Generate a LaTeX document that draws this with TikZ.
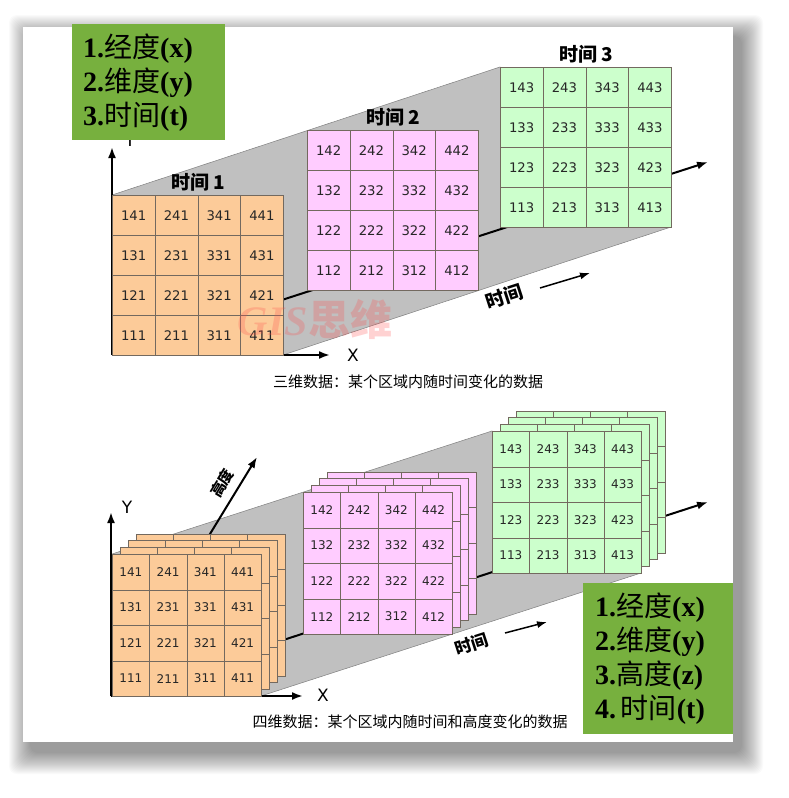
\documentclass[tikz,border=0pt]{standalone}
\usepackage{fontspec}
\newfontfamily\cjk{Noto Sans CJK SC}
\newfontfamily\cellfont{DejaVu Sans}
\newfontfamily\serifbold{Liberation Serif}
\usetikzlibrary{arrows.meta,calc,positioning}

\definecolor{cellorange}{RGB}{252,203,153}
\definecolor{cellpink}{RGB}{255,204,255}
\definecolor{cellgreen}{RGB}{204,255,204}
\definecolor{cellline}{RGB}{115,105,95}
\definecolor{slabgray}{RGB}{192,192,192}
\definecolor{legendgreen}{RGB}{119,176,62}

% one visible layer: 4x4 cells, text = column row time
\newcommand{\frontgrid}[7]{%
  \foreach \col in {1,...,4}
    \foreach \row in {1,...,4}
      \node[cellbox, #7cell, fill=#5, minimum width=#3pt, minimum height=#4pt] (#7\col\row#6)
        at ({#1+(\col-1)*#3},{#2+(4-\row)*#4}) {\col\row#6};
}
% a layer lying behind, only its edges show
\newcommand{\backlayer}[5]{%
  \filldraw[fill=#5, draw=cellline, line width=0.6pt] (#1,#2) rectangle ++({4*#3},{4*#4});
  \foreach \k in {1,2,3}{
    \draw[cellline, line width=0.6pt] ({#1+\k*#3},#2) -- ++(0,{4*#4});
    \draw[cellline, line width=0.6pt] (#1,{#2+\k*#4}) -- ++({4*#3},0);
  }
}
\newcommand{\lgnum}[1]{{\serifbold\bfseries #1}}

\begin{document}
\begin{tikzpicture}[x=1pt,y=-1pt,
    cellbox/.style={draw=cellline, line width=0.6pt, inner sep=0pt, anchor=north west, text=black!85},
    tcell/.style={font={\cellfont\fontsize{13.2}{14}\selectfont}},
    bcell/.style={font={\cellfont\fontsize{12}{13}\selectfont}},
    axisline/.style={line width=2pt, -{Latex[length=11pt,width=8pt]}},
    shortarrow/.style={line width=1.5pt, -{Latex[length=10pt,width=7pt]}},
    slab/.style={fill=slabgray, draw=black!50, line width=0.5pt},
    timelabel/.style={font={\cjk\bfseries\fontsize{19}{21}\selectfont}},
    axislabel/.style={font={\cellfont\fontsize{17}{19}\selectfont}},
    caption/.style={font={\cjk\fontsize{15}{18}\selectfont}, text=black},
    legendbox/.style={fill=legendgreen, anchor=north west, align=left, inner sep=0pt,
      font={\cjk\fontsize{28}{34}\selectfont}},
    watermark/.style={text=red!70, opacity=0.25, font={\fontsize{42}{44}\selectfont}}]

  \useasboundingbox (0,0) rectangle (788,798);
  \fill[white] (0,0) rectangle (788,798);

  % page and its shadow
  \foreach \s in {1,...,22}
    \fill[black, opacity=0.018, rounded corners=8pt] ({31-\s},{37-\s}) rectangle ({741+\s},{752+\s});
  \fill[white] (23,27) rectangle (733,742);

  % ---------- three dimensions ----------
  \coordinate (O1) at (112,355);
  \coordinate (Y1) at (112,147);
  \coordinate (X1) at (330,355);
  \coordinate (T1) at (708,162);
  \coordinate (A1) at (112,195);
  \coordinate (C1) at (500,67);

  \path[slab] (A1) -- (C1) -- ($(C1)+(171,160)$) -- ($(A1)+(171,160)$) -- cycle;
  \draw[axisline] (O1) -- (T1);
  \draw[axisline] (O1) -- (Y1);
  \draw[axisline] (O1) -- (X1);

  \frontgrid{112}{195}{42.75}{40}{cellorange}{1}{t}
  \frontgrid{307}{130}{42.75}{40}{cellpink}{2}{t}
  \frontgrid{500}{67}{42.75}{40}{cellgreen}{3}{t}

  \node[timelabel, above=0pt of t241.north east] (lab1) {时间 1};
  \node[timelabel, above=0pt of t242.north east] (lab2) {时间 2};
  \node[timelabel, above=0pt of t243.north east] (lab3) {时间 3};

  \node[axislabel] (xlab1) at (353,355) {X};
  \node[axislabel] (ylab1) at (130,140) {Y};
  \node[timelabel, inner sep=0pt, rotate=18] (tlab1) at (504,297) {时间};
  \coordinate (ta1) at (540,288);
  \coordinate (ta2) at (590,273);
  \draw[shortarrow] (ta1) -- (ta2);

  \node[watermark] (wm) at (315,319) {{\serifbold\bfseries\itshape GIS}{\cjk\bfseries 思维}};
  \node[caption] (cap3) at (408,382) {三维数据：某个区域内随时间变化的数据};

  % ---------- four dimensions ----------
  \coordinate (O2) at (111,696);
  \coordinate (Y2) at (111,512);
  \coordinate (X2) at (303,696);
  \coordinate (T2) at (708,502);
  \coordinate (H2) at (257,457);
  \coordinate (A2) at (112,554);
  \coordinate (C2) at (492,431);

  \path[slab] (A2) -- (C2) -- ($(C2)+(149,142)$) -- ($(A2)+(149,142)$) -- cycle;
  \draw[axisline] (O2) -- (T2);
  \draw[axisline] (O2) -- (H2);
  \draw[axisline] (O2) -- (Y2);
  \draw[axisline] (O2) -- (X2);

  \foreach \L in {3,2,1}{
    \backlayer{112+8*\L}{554-6.7*\L}{37.25}{35.5}{cellorange}
    \backlayer{303+8*\L}{492-6.7*\L}{37.25}{35.5}{cellpink}
    \backlayer{492+8*\L}{431-6.7*\L}{37.25}{35.5}{cellgreen}
  }
  \frontgrid{112}{554}{37.25}{35.5}{cellorange}{1}{b}
  \frontgrid{303}{492}{37.25}{35.5}{cellpink}{2}{b}
  \frontgrid{492}{431}{37.25}{35.5}{cellgreen}{3}{b}

  \node[axislabel] (xlab2) at (323,695) {X};
  \node[axislabel] (ylab2) at (127,507) {Y};
  \node[timelabel, inner sep=0pt, font={\cjk\bfseries\fontsize{15}{17}\selectfont}, rotate=58.5] (hlab) at (222,483) {高度};
  \node[timelabel, inner sep=0pt, font={\cjk\bfseries\fontsize{17}{19}\selectfont}, rotate=18] (tlab2) at (472,644) {时间};
  \coordinate (tb1) at (505,633);
  \coordinate (tb2) at (547,622);
  \draw[shortarrow] (tb1) -- (tb2);

  \node[caption] (cap4) at (410,722) {四维数据：某个区域内随时间和高度变化的数据};

  % ---------- legends ----------
  \node[legendbox, minimum width=153pt, minimum height=116pt, text width=131pt] (legA) at (72,24)
    {\lgnum{1.}经度\lgnum{(x)}\\\lgnum{2.}维度\lgnum{(y)}\\\lgnum{3.}时间\lgnum{(t)}};
  \node[legendbox, minimum width=150pt, minimum height=151pt, text width=126pt] (legB) at (583,583)
    {\lgnum{1.}经度\lgnum{(x)}\\\lgnum{2.}维度\lgnum{(y)}\\\lgnum{3.}高度\lgnum{(z)}\\\lgnum{4.}\,时间\lgnum{(t)}};
\end{tikzpicture}
\end{document}
